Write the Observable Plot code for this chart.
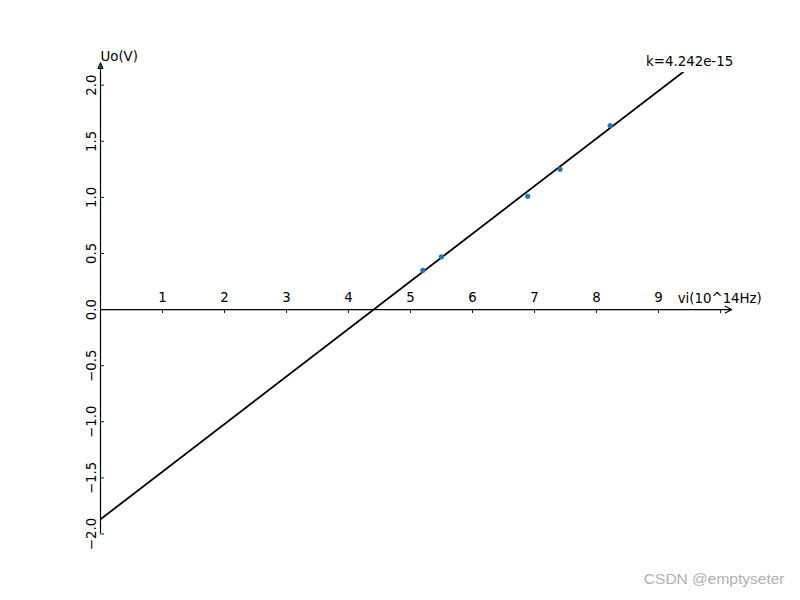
<!DOCTYPE html>
<html>
<head>
<meta charset="utf-8">
<script src="https://cdn.jsdelivr.net/npm/d3@7"></script>
<script src="https://cdn.jsdelivr.net/npm/@observablehq/plot@0.6"></script>
<style>
  html, body { margin: 0; padding: 0; background: #fff; }
  #chart svg { display: block; }
</style>
</head>
<body>
<div id="chart"></div>
<script>
// measured data: frequency (10^14 Hz) vs stopping voltage Uo (V)
const freq = [5.20, 5.50, 6.89, 7.41, 8.22];
const volt = [0.35, 0.47, 1.01, 1.25, 1.64];

// fitted line  Uo = k' * v + b   (k' in V per 10^14 Hz)
const slope = 0.4242;
const intercept = -1.869;
const fitX = [0, 10];

const xTicks = [1, 2, 3, 4, 5, 6, 7, 8, 9, 10];
const xTickLabelValues = [1, 2, 3, 4, 5, 6, 7, 8, 9];
const xTickLabels = ["1", "2", "3", "4", "5", "6", "7", "8", "9"];
const yTicks = [-2.0, -1.5, -1.0, -0.5, 0.0, 0.5, 1.0, 1.5, 2.0];
const yTickLabels = ["−2.0", "−1.5", "−1.0", "−0.5", "0.0", "0.5", "1.0", "1.5", "2.0"];

const yTitle = "Uo(V)";
const xTitle = "vi(10^14Hz)";
const kText = "k=4.242e-15";
const watermark = "CSDN @emptyseter";

const yMin = -2.0, yMax = 2.113;
const xMin = 0, xMax = 10;

const points = freq.map((f, i) => ({x: f, y: volt[i]}));
const fit = fitX.map(x => ({x, y: slope * x + intercept}));
const xTickData = xTicks.map(x => ({x, y: 0}));
const xLabelData = xTickLabelValues.map((x, i) => ({x, y: 0, t: xTickLabels[i]}));
const yTickData = yTicks.map(y => ({x: 0, y}));
const yLabelData = yTicks.map((y, i) => ({x: 0, y, t: yTickLabels[i]}));

const tickDown = {draw(ctx) { ctx.moveTo(0, 0); ctx.lineTo(0, 3.5); }};
const tickRight = {draw(ctx) { ctx.moveTo(0, 0); ctx.lineTo(3.5, 0); }};
const arrowUp = {draw(ctx) {
  ctx.moveTo(0, 0); ctx.lineTo(0, -4);
  ctx.moveTo(0, -10); ctx.lineTo(2.6, -4); ctx.lineTo(-2.6, -4); ctx.closePath();
}};

const font = "DejaVu Sans";
const fs = 13.33;

const chart = Plot.plot({
  width: 800,
  height: 600,
  marginLeft: 100,
  marginRight: 80,
  marginTop: 72,
  marginBottom: 66.5,
  style: {fontFamily: font, fontSize: fs + "px", background: "#fff"},
  x: {domain: [xMin, xMax], axis: null},
  y: {domain: [yMin, yMax], axis: null},
  marks: [
    // y spine
    Plot.ruleX([0], {x: 0, y1: yMin, y2: yMax, stroke: "black", strokeWidth: 1.2}),
    // y arrow head
    Plot.dot([{x: 0, y: yMax}], {x: "x", y: "y", symbol: arrowUp, fill: "#1f4e8c", stroke: "black", strokeWidth: 1}),
    // x spine with arrow
    Plot.arrow([{x1: 0, x2: 10.18, y1: 0, y2: 0}], {x1: "x1", x2: "x2", y1: "y1", y2: "y2", stroke: "black", strokeWidth: 1.2, headLength: 9, headAngle: 55}),
    // ticks
    Plot.dot(xTickData, {x: "x", y: "y", symbol: tickDown, stroke: "black", fill: "none", strokeWidth: 0.9}),
    Plot.dot(yTickData, {x: "x", y: "y", symbol: tickRight, stroke: "black", fill: "none", strokeWidth: 0.9}),
    // tick labels
    Plot.text(xLabelData, {x: "x", y: "y", text: "t", dy: -12, fontSize: fs, fill: "black"}),
    Plot.text(yLabelData, {x: "x", y: "y", text: "t", dx: -8.5, rotate: -90, fontSize: fs, fill: "black"}),
    // fitted line
    Plot.line(fit, {x: "x", y: "y", stroke: "black", strokeWidth: 1.8, clip: true}),
    // data points
    Plot.dot(points, {x: "x", y: "y", r: 2.6, fill: "#1f77b4", stroke: "none"}),
    // titles
    Plot.text([yTitle], {x: 0, y: yMax, text: d => d, dy: -16, textAnchor: "start", fontSize: fs, fill: "black"}),
    Plot.text([kText], {x: 8.8, y: yMax, text: d => d, dy: -11, textAnchor: "start", fontSize: fs, fill: "black"}),
    Plot.text([xTitle], {x: 9.31, y: 0, text: d => d, dy: -11, textAnchor: "start", fontSize: fs, fill: "black"}),
    // watermark
    Plot.text([watermark], {frameAnchor: "bottom-right", text: d => d, dx: 64, dy: 50, fontSize: 15.5, fontFamily: "Liberation Sans", fill: "#b0b0b0"})
  ]
});

document.getElementById("chart").appendChild(chart);
</script>
</body>
</html>
